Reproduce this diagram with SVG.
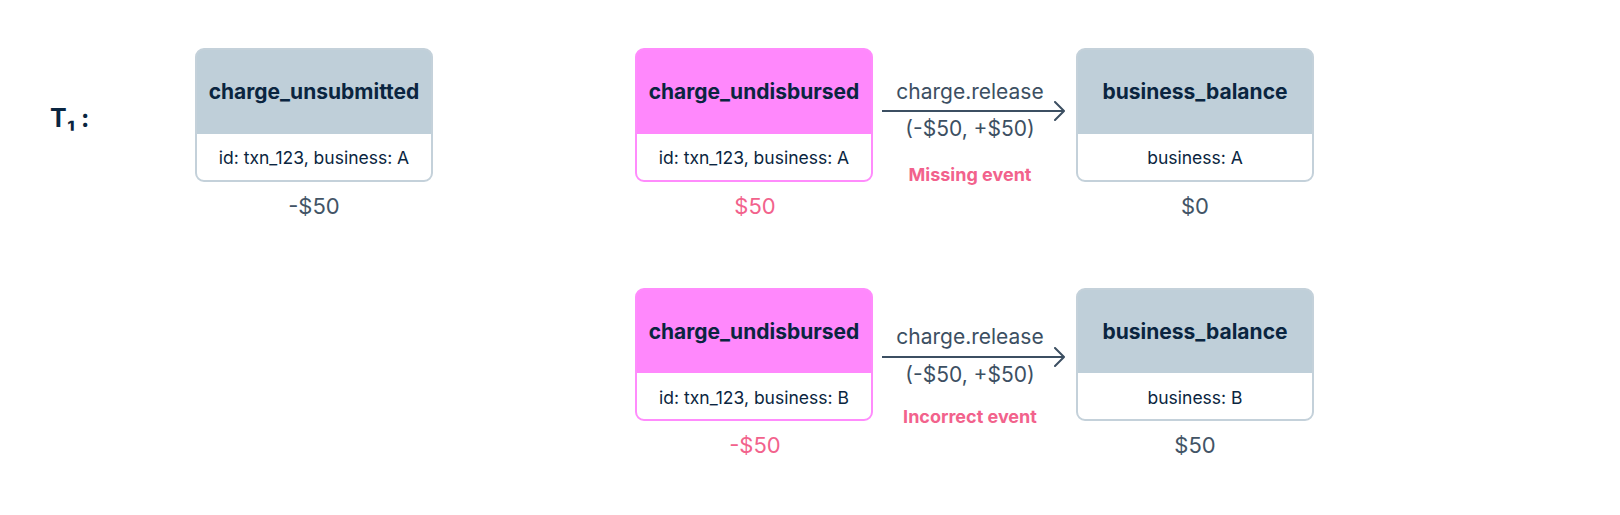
<svg xmlns="http://www.w3.org/2000/svg" width="1620" height="515" viewBox="0 0 1620 515">
<defs>
<style>
.t{font-family:Inter,"Liberation Sans",sans-serif;}
.title{font-size:21px;font-weight:700;fill:#0a2540;text-anchor:middle;}
.sub{font-size:17.5px;fill:#0a2540;text-anchor:middle;}
.amt{font-size:22px;fill:#425466;text-anchor:middle;}
.amtp{font-size:22px;fill:#f2628c;text-anchor:middle;}
.lbl{font-size:21px;fill:#3c4f62;text-anchor:middle;}
.warn{font-size:18px;font-weight:700;fill:#f2628c;text-anchor:middle;}
.hg{fill:#bfcfd9;}
.hp{fill:#ff88fc;}
.bg{fill:none;stroke:#c4d1da;stroke-width:2;}
.bp{fill:none;stroke:#ff8cfc;stroke-width:2;}
.edge{stroke:#3c4f62;stroke-width:2;fill:none;}
</style>
<marker id="arr" markerWidth="12" markerHeight="20" refX="10" refY="10" orient="auto" markerUnits="userSpaceOnUse">
<path d="M1,1 L10,10 L1,19" fill="none" stroke="#3c4f62" stroke-width="2" stroke-linecap="round" stroke-linejoin="round"/>
</marker>
</defs>
<rect width="1620" height="515" fill="#ffffff"/>
<text class="t" x="50" y="127" font-size="25" font-weight="700" fill="#0a2540">T₁ :</text>

<g id="charge_unsubmitted">
<rect x="196" y="49" width="236" height="132" rx="8" fill="#ffffff"/>
<path class="hg" d="M196,134 V57 a8,8 0 0 1 8,-8 H424 a8,8 0 0 1 8,8 V134 Z"/>
<rect class="bg" x="196" y="49" width="236" height="132" rx="8"/>
<text class="t title" x="314" y="99">charge_unsubmitted</text>
<text class="t sub" x="314" y="164">id: txn_123, business: A</text>
<text class="t amt" x="314" y="214">-$50</text>
</g>

<g id="charge_undisbursed_a">
<rect x="636" y="49" width="236" height="132" rx="8" fill="#ffffff"/>
<path class="hp" d="M636,134 V57 a8,8 0 0 1 8,-8 H864 a8,8 0 0 1 8,8 V134 Z"/>
<rect class="bp" x="636" y="49" width="236" height="132" rx="8"/>
<text class="t title" x="754" y="99">charge_undisbursed</text>
<text class="t sub" x="754" y="164">id: txn_123, business: A</text>
<text class="t amtp" x="755" y="214">$50</text>
</g>

<g id="business_balance_a">
<rect x="1077" y="49" width="236" height="132" rx="8" fill="#ffffff"/>
<path class="hg" d="M1077,134 V57 a8,8 0 0 1 8,-8 H1305 a8,8 0 0 1 8,8 V134 Z"/>
<rect class="bg" x="1077" y="49" width="236" height="132" rx="8"/>
<text class="t title" x="1195" y="99">business_balance</text>
<text class="t sub" x="1195" y="164">business: A</text>
<text class="t amt" x="1195" y="214">$0</text>
</g>

<g id="charge_undisbursed_b">
<rect x="636" y="289" width="236" height="131" rx="8" fill="#ffffff"/>
<path class="hp" d="M636,373 V297 a8,8 0 0 1 8,-8 H864 a8,8 0 0 1 8,8 V373 Z"/>
<rect class="bp" x="636" y="289" width="236" height="131" rx="8"/>
<text class="t title" x="754" y="339">charge_undisbursed</text>
<text class="t sub" x="754" y="404">id: txn_123, business: B</text>
<text class="t amtp" x="755" y="453">-$50</text>
</g>

<g id="business_balance_b">
<rect x="1077" y="289" width="236" height="131" rx="8" fill="#ffffff"/>
<path class="hg" d="M1077,373 V297 a8,8 0 0 1 8,-8 H1305 a8,8 0 0 1 8,8 V373 Z"/>
<rect class="bg" x="1077" y="289" width="236" height="131" rx="8"/>
<text class="t title" x="1195" y="339">business_balance</text>
<text class="t sub" x="1195" y="404">business: B</text>
<text class="t amt" x="1195" y="453">$50</text>
</g>

<g id="connectors">
<line class="edge" x1="882" y1="111" x2="1064" y2="111" marker-end="url(#arr)"/>
<text class="t lbl" x="970" y="99">charge.release</text>
<text class="t lbl" x="970" y="136">(-$50, +$50)</text>
<text class="t warn" x="970" y="181">Missing event</text>
<line class="edge" x1="882" y1="357" x2="1064" y2="357" marker-end="url(#arr)"/>
<text class="t lbl" x="970" y="344">charge.release</text>
<text class="t lbl" x="970" y="382">(-$50, +$50)</text>
<text class="t warn" x="970" y="423">Incorrect event</text>
</g>
</svg>
